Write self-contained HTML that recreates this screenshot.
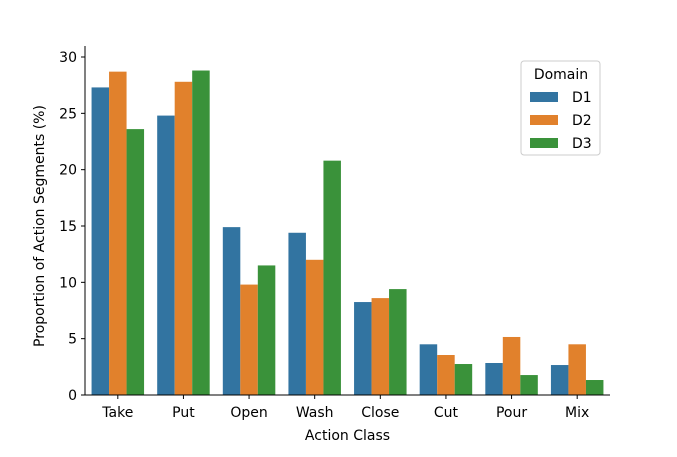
<!DOCTYPE html>
<html><head><meta charset="utf-8"><style>
body{margin:0;background:#fff;font-family:"Liberation Sans","DejaVu Sans",sans-serif;}
svg text{font-family:"DejaVu Sans","Liberation Sans",sans-serif;fill:#000;}
</style></head><body>
<svg id="chart" width="677" height="452" xmlns="http://www.w3.org/2000/svg">
<g id="bars"></g>
<g id="axes"></g>
<g id="legend"></g>
</svg>
<script>
const categories=["Take","Put","Open","Wash","Close","Cut","Pour","Mix"];
const seriesNames=["D1","D2","D3"];
const d1=[27.3,24.8,14.9,14.4,8.25,4.5,2.84,2.66];
const d2=[28.7,27.8,9.8,12.0,8.6,3.55,5.15,4.5];
const d3=[23.6,28.8,11.5,20.8,9.4,2.75,1.77,1.33];
const yTicks=[0,5,10,15,20,25,30];
const colors=["#3274a1","#e1812c","#3a923a"];
const series=[d1,d2,d3];
const NS="http://www.w3.org/2000/svg";
const L=85,R=610,T=46,B=395;
const yMax=31;
function y(v){return B-v/30*(B-57);}
const band=(R-L)/categories.length;
function xc(i){return L+band*(i+0.5);}
const bw=band*0.8/3;
function mk(tag,attrs,parent){const e=document.createElementNS(NS,tag);for(const k in attrs)e.setAttribute(k,attrs[k]);parent.appendChild(e);return e;}
const bars=document.getElementById('bars');
series.forEach((s,si)=>{s.forEach((v,i)=>{
 const r=mk('rect',{x:xc(i)-1.5*bw+si*bw,y:y(v),width:bw,height:B-y(v),fill:colors[si]},bars);
 
 
});});
const ax=document.getElementById('axes');
mk('line',{x1:L,y1:T,x2:L,y2:B,stroke:'#000','stroke-width':1},ax);
mk('line',{x1:L,y1:B,x2:R,y2:B,stroke:'#000','stroke-width':1},ax);
yTicks.forEach(t=>{
 mk('line',{x1:L-4,y1:y(t),x2:L,y2:y(t),stroke:'#000'},ax);
 const tx=mk('text',{x:L-8,y:y(t)+5,'text-anchor':'end','font-size':14},ax);tx.textContent=t;
 
 
});
categories.forEach((c,i)=>{
 mk('line',{x1:xc(i),y1:B,x2:xc(i),y2:B+4,stroke:'#000'},ax);
 const tx=mk('text',{x:xc(i),y:B+22,'text-anchor':'middle','font-size':14},ax);tx.textContent=c;
 
 
});
const xt=mk('text',{x:(L+R)/2,y:440,'text-anchor':'middle','font-size':14},ax);xt.textContent="Action Class";


const yt=mk('text',{x:0,y:0,'text-anchor':'middle','font-size':14,transform:'translate(44,226) rotate(-90)'},ax);yt.textContent="Proportion of Action Segments (%)";


const lg=document.getElementById('legend');
mk('rect',{x:521,y:61,width:79,height:94,rx:3,fill:'#fff',stroke:'#ccc'},lg);
const lt=mk('text',{x:561,y:79,'text-anchor':'middle','font-size':14},lg);lt.textContent="Domain";


seriesNames.forEach((n,i)=>{
 const g=mk('g',{},lg);
 
 
 mk('rect',{x:530,y:92+i*23,width:28,height:10,fill:colors[i]},g);
 const t=mk('text',{x:572,y:102+i*23,'font-size':14},g);t.textContent=n;
});
</script>
</body></html>
